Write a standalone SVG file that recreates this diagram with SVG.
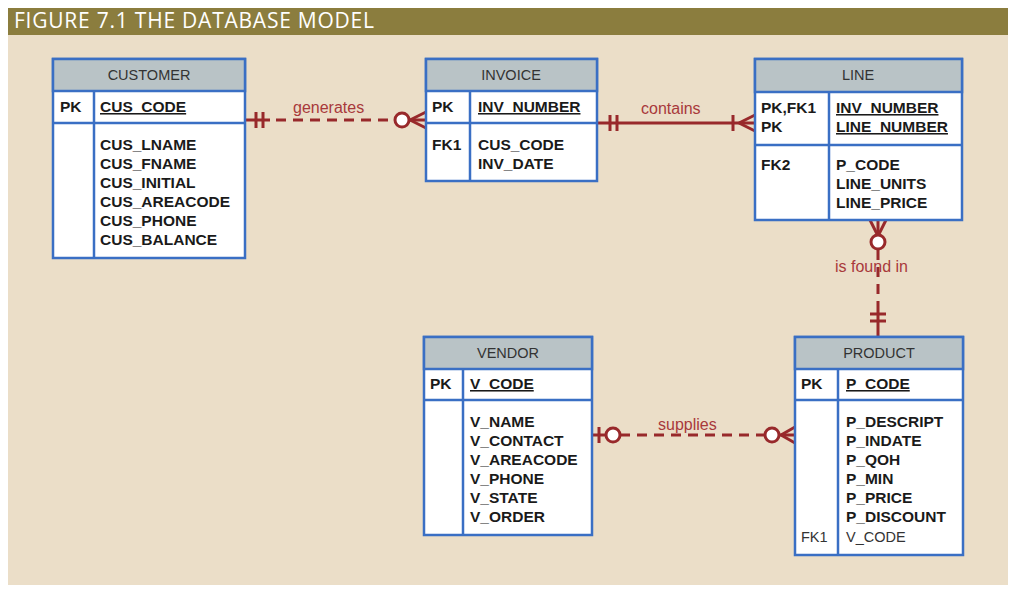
<svg xmlns="http://www.w3.org/2000/svg" width="1024" height="602" viewBox="0 0 1024 602">
<style>
.hd{fill:#b9c3c6;stroke:#3a6fc4;stroke-width:2.5}
.bx{fill:#fff;stroke:#3a6fc4;stroke-width:2.5}
.ln{stroke:#3a6fc4;stroke-width:2.5}
.t{font-family:"Liberation Sans",Arial,sans-serif;font-size:14.5px;fill:#333}
.b{font-family:"Liberation Sans",Arial,sans-serif;font-size:15.5px;font-weight:bold;fill:#1a1a1a}
.u{text-decoration:underline}
.r{stroke:#98292b;stroke-width:3;fill:none}
.rc{stroke:#98292b;stroke-width:3;fill:#fff}
.d{stroke-dasharray:10,7}
.lb{font-family:"Liberation Sans",Arial,sans-serif;font-size:16px;fill:#a8393b}
</style>
<rect x="0" y="0" width="1024" height="602" fill="#fff"/>
<rect x="8" y="35" width="1000" height="550" fill="#ebdec8"/>
<rect x="8" y="8" width="1000" height="27" fill="#8b7d3e"/>
<text x="14" y="28" font-family="'Open Sans','Liberation Sans',sans-serif" font-size="21" textLength="360" fill="#fff">FIGURE 7.1  THE DATABASE MODEL</text>

<g id="connectors">
<g id="generates">
<line class="r" x1="245" y1="120" x2="270" y2="120"/>
<line class="r d" x1="276" y1="120" x2="394" y2="120"/>
<line class="r" x1="256" y1="112" x2="256" y2="128"/><line class="r" x1="263" y1="112" x2="263" y2="128"/>
<line class="r" x1="408" y1="120" x2="426" y2="120"/>
<line class="r" x1="410" y1="120" x2="426" y2="112"/><line class="r" x1="410" y1="120" x2="426" y2="128"/>
<circle class="rc" cx="402" cy="120" r="7"/>
<text class="lb" x="293" y="113">generates</text>
</g>
<g id="contains">
<line class="r" x1="597" y1="123" x2="755" y2="123"/>
<line class="r" x1="610" y1="115" x2="610" y2="131"/><line class="r" x1="617" y1="115" x2="617" y2="131"/>
<line class="r" x1="733" y1="115" x2="733" y2="131"/>
<line class="r" x1="739" y1="123" x2="755" y2="115"/><line class="r" x1="739" y1="123" x2="755" y2="131"/>
<text class="lb" x="641" y="114">contains</text>
</g>
<g id="foundin">
<line class="r" x1="878" y1="220" x2="878" y2="234"/>
<line class="r" x1="878" y1="236" x2="870" y2="220"/><line class="r" x1="878" y1="236" x2="886" y2="220"/>
<line class="r d" x1="878" y1="250" x2="878" y2="306"/>
<line class="r" x1="878" y1="306" x2="878" y2="337"/>
<line class="r" x1="870" y1="314" x2="886" y2="314"/><line class="r" x1="870" y1="321" x2="886" y2="321"/>
<circle class="rc" cx="878" cy="242" r="7"/>
<text class="lb" x="835" y="272">is found in</text>
</g>
<g id="supplies">
<line class="r" x1="592" y1="435" x2="606" y2="435"/>
<line class="r d" x1="620" y1="435" x2="765" y2="435"/>
<line class="r" x1="599" y1="427" x2="599" y2="443"/>
<circle class="rc" cx="613" cy="435" r="7"/>
<line class="r" x1="779" y1="435" x2="795" y2="435"/>
<line class="r" x1="781" y1="435" x2="795" y2="427"/><line class="r" x1="781" y1="435" x2="795" y2="443"/>
<circle class="rc" cx="772" cy="435" r="7"/>
<text class="lb" x="658" y="430">supplies</text>
</g>
</g>

<g id="customer">
<rect class="bx" x="53" y="59" width="192" height="199"/>
<rect class="hd" x="53" y="59" width="192" height="32"/>
<line class="ln" x1="53" y1="123" x2="245" y2="123"/><line class="ln" x1="94" y1="91" x2="94" y2="258"/>
<text class="t" x="149" y="80" text-anchor="middle">CUSTOMER</text>
<text class="b" x="60" y="112">PK</text>
<text class="b u" x="100" y="112">CUS_CODE</text>
<text class="b" x="100" y="150">CUS_LNAME</text>
<text class="b" x="100" y="169">CUS_FNAME</text>
<text class="b" x="100" y="188">CUS_INITIAL</text>
<text class="b" x="100" y="207">CUS_AREACODE</text>
<text class="b" x="100" y="226">CUS_PHONE</text>
<text class="b" x="100" y="245">CUS_BALANCE</text>
</g>

<g id="invoice">
<rect class="bx" x="426" y="59" width="171" height="122"/>
<rect class="hd" x="426" y="59" width="171" height="32"/>
<line class="ln" x1="426" y1="123" x2="597" y2="123"/><line class="ln" x1="470" y1="91" x2="470" y2="181"/>
<text class="t" x="511" y="80" text-anchor="middle">INVOICE</text>
<text class="b" x="432" y="112">PK</text>
<text class="b u" x="478" y="112">INV_NUMBER</text>
<text class="b" x="432" y="150">FK1</text>
<text class="b" x="478" y="150">CUS_CODE</text>
<text class="b" x="478" y="169">INV_DATE</text>
</g>

<g id="line">
<rect class="bx" x="755" y="59" width="207" height="161"/>
<rect class="hd" x="755" y="59" width="207" height="33"/>
<line class="ln" x1="755" y1="145" x2="962" y2="145"/><line class="ln" x1="829" y1="92" x2="829" y2="220"/>
<text class="t" x="858" y="80" text-anchor="middle">LINE</text>
<text class="b" x="761" y="113">PK,FK1</text>
<text class="b" x="761" y="132">PK</text>
<text class="b u" x="836" y="113">INV_NUMBER</text>
<text class="b u" x="836" y="132">LINE_NUMBER</text>
<text class="b" x="761" y="170">FK2</text>
<text class="b" x="836" y="170">P_CODE</text>
<text class="b" x="836" y="189">LINE_UNITS</text>
<text class="b" x="836" y="208">LINE_PRICE</text>
</g>

<g id="vendor">
<rect class="bx" x="424" y="337" width="168" height="198"/>
<rect class="hd" x="424" y="337" width="168" height="32"/>
<line class="ln" x1="424" y1="400" x2="592" y2="400"/><line class="ln" x1="463" y1="369" x2="463" y2="535"/>
<text class="t" x="508" y="358" text-anchor="middle">VENDOR</text>
<text class="b" x="430" y="389">PK</text>
<text class="b u" x="470" y="389">V_CODE</text>
<text class="b" x="470" y="427">V_NAME</text>
<text class="b" x="470" y="446">V_CONTACT</text>
<text class="b" x="470" y="465">V_AREACODE</text>
<text class="b" x="470" y="484">V_PHONE</text>
<text class="b" x="470" y="503">V_STATE</text>
<text class="b" x="470" y="522">V_ORDER</text>
</g>

<g id="product">
<rect class="bx" x="795" y="337" width="168" height="218"/>
<rect class="hd" x="795" y="337" width="168" height="32"/>
<line class="ln" x1="795" y1="400" x2="963" y2="400"/><line class="ln" x1="838" y1="369" x2="838" y2="555"/>
<text class="t" x="879" y="358" text-anchor="middle">PRODUCT</text>
<text class="b" x="801" y="389">PK</text>
<text class="b u" x="846" y="389">P_CODE</text>
<text class="b" x="846" y="427">P_DESCRIPT</text>
<text class="b" x="846" y="446">P_INDATE</text>
<text class="b" x="846" y="465">P_QOH</text>
<text class="b" x="846" y="484">P_MIN</text>
<text class="b" x="846" y="503">P_PRICE</text>
<text class="b" x="846" y="522">P_DISCOUNT</text>
<text class="t" x="801" y="542">FK1</text>
<text class="t" x="846" y="542">V_CODE</text>
</g>
</svg>
